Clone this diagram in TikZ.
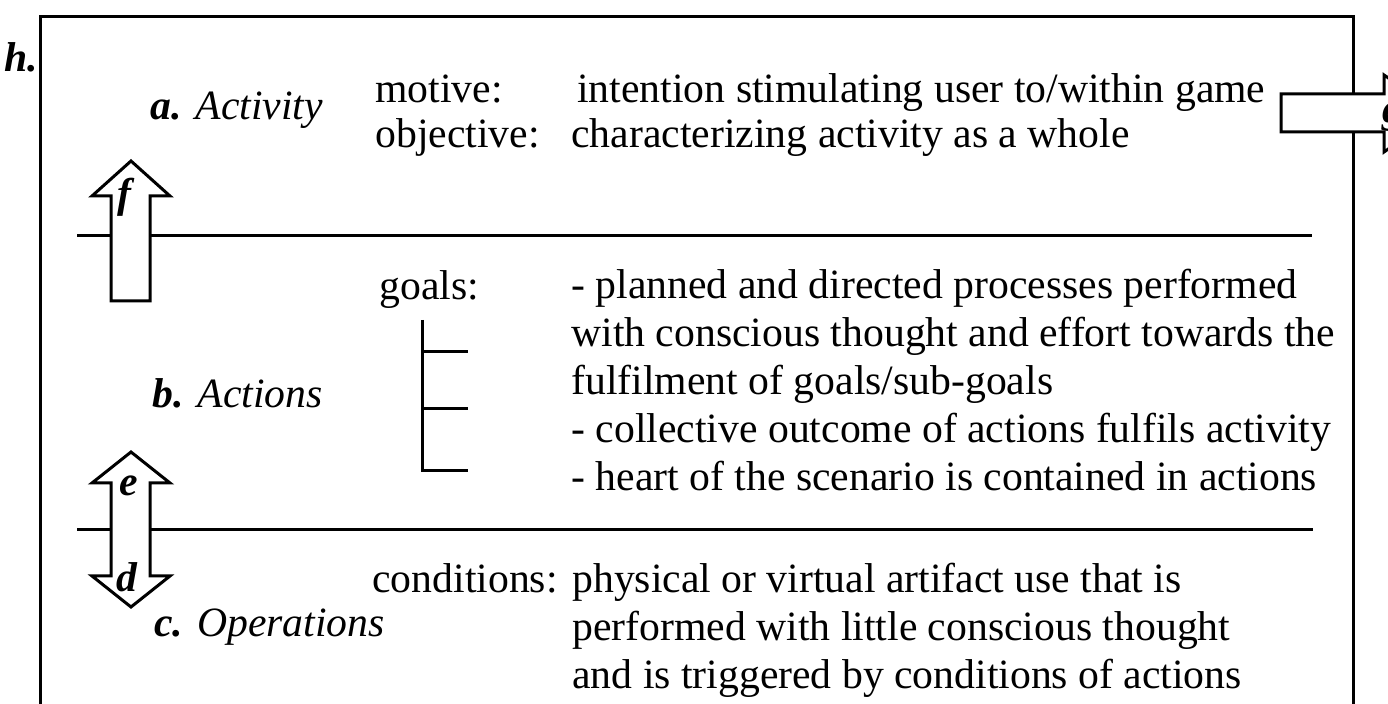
\documentclass[tikz,border=0pt]{standalone}
\usepackage{fontspec}
\setmainfont{Liberation Serif}
\begin{document}
\begin{tikzpicture}[x=0.5pt, y=-0.5pt,
    rule/.style={line width=1.5pt},
    blockarrow/.style={draw, line width=1.5pt, fill=white, line join=miter},
    txt/.style={anchor=base west, inner sep=0pt, align=left, font=\fontsize{20.85}{24}\selectfont},
    arrowtag/.style={inner sep=0pt, font=\fontsize{20.85}{24}\selectfont\bfseries\itshape}]
    \useasboundingbox (0,0) rectangle (1388,704);
    \clip (0,0) rectangle (1388,704);

    % Frame
    \draw[rule] (40,720) -- (40,17) -- (1353,17) -- (1353,720);
    \node[txt] (h) at (4,72) {\bfseries\itshape h.};

    % Level separators
    \draw[rule] (77,236) -- (1312,236);
    \draw[rule] (77,530) -- (1313,530);

    % Arrow g
    \draw[blockarrow] (1281,94) -- (1384,94) -- (1384,75) -- (1440,113) -- (1384,152)
        -- (1384,132) -- (1281,132) -- cycle;
    \node[arrowtag, anchor=base west] (g) at (1382,123) {g};

    % Arrow f
    \draw[blockarrow] (111,301) -- (111,196) -- (92,196) -- (131,161) -- (170,196)
        -- (150,196) -- (150,301) -- cycle;
    \node[arrowtag] (f) at (124,197) {f};

    % Arrows e and d
    \draw[blockarrow] (111,483) -- (92,483) -- (131,452) -- (170,483) -- (150,483)
        -- (150,576) -- (170,576) -- (131,607) -- (92,576) -- (111,576) -- cycle;
    \node[arrowtag] (e) at (129,486) {e};
    \node[arrowtag] (d) at (127,577) {d};

    % Activity level
    \node[txt] (activity) at (150,120) {{\bfseries\itshape a.} {\itshape Activity}};
    \node[txt] (motive) at (375,103) {motive:};
    \node[txt] (motiveText) at (577,103) {intention stimulating user to/within game};
    \node[txt] (objective) at (375,148) {objective:};
    \node[txt] (objectiveText) at (571,148) {characterizing activity as a whole};

    % Actions level (multi-line texts sit on their last baseline)
    \node[txt] (actions) at (152,408) {{\bfseries\itshape b.} {\itshape Actions}};
    \node[txt] (goals) at (379,300) {goals:};
    \node[txt] (goalsText) at (571,491) {- planned and directed processes performed\\
        with conscious thought and effort towards the\\
        fulfilment of goals/sub-goals\\
        - collective outcome of actions fulfils activity\\
        - heart of the scenario is contained in actions};
    \draw[rule] (422,320) -- (422,471) -- (468,471);
    \draw[rule] (422,352) -- (468,352);
    \draw[rule] (422,409) -- (468,409);

    % Operations level
    \node[txt] (operations) at (154,637) {{\bfseries\itshape c.} {\itshape Operations}};
    \node[txt] (conditions) at (372,593) {conditions:};
    \node[txt] (conditionsText) at (572,689) {physical or virtual artifact use that is\\
        performed with little conscious thought\\
        and is triggered by conditions of actions};
\end{tikzpicture}
\end{document}
